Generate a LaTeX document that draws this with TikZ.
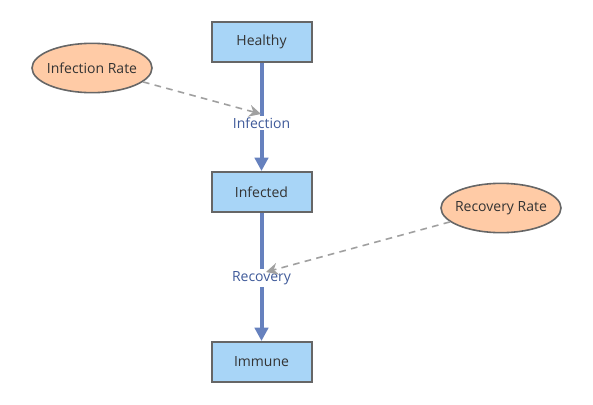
\documentclass[tikz,border=0pt]{standalone}
\usepackage{fontspec}
\setmainfont{Open Sans}
\usetikzlibrary{shapes.geometric,arrows.meta}
\definecolor{stockfill}{HTML}{A8D5F7}
\definecolor{stockline}{HTML}{666666}
\definecolor{ratefill}{HTML}{FFCBA6}
\definecolor{flowblue}{HTML}{6681BE}
\definecolor{flowtext}{HTML}{3F5A9A}
\definecolor{linkgray}{HTML}{A0A0A0}
\tikzset{
    stock/.style={draw=stockline, fill=stockfill, line width=1.5pt, minimum width=75pt, minimum height=30pt, font=\fontsize{10.5}{12}\selectfont, text=black!80},
    rate/.style={ellipse, draw=stockline, fill=ratefill, line width=1.2pt, minimum width=90pt, minimum height=37pt, inner xsep=-3pt, inner ysep=0pt, font=\fontsize{10.5}{12}\selectfont, text=black!80},
    flowlabel/.style={fill=white, inner sep=1.5pt, font=\fontsize{10.5}{12}\selectfont, text=flowtext},
    flow/.style={-{Triangle[length=10pt, width=10pt]}, line width=3pt, color=flowblue},
    link/.style={-{Stealth[length=9pt, width=9pt, inset=3pt]}, dashed, dash pattern=on 5pt off 4pt, line width=1.2pt, color=linkgray}
}
\begin{document}
\begin{tikzpicture}[x=0.75pt, y=-0.75pt]
        % page frame
        \useasboundingbox (0,0) rectangle (593,404);
        % stocks
        \node [stock] (healthy) at (261.5,42) {Healthy};
        \node [stock] (infected) at (261.5,192) {Infected};
        \node [stock] (immune) at (261.5,362) {Immune};
        % rates
        \node [rate] (infrate) at (92,68) {Infection Rate};
        \node [rate] (recrate) at (501,208) {Recovery Rate};
        % flows, label on top
        \draw [flow] (healthy.south) -- (infected.north);
        \draw [flow] (infected.south) -- (immune.north);
        \node [flowlabel] (infflow) at (261.5,123) {Infection};
        \node [flowlabel] (recflow) at (261.5,278) {Recovery};
        % dashed links
        \coordinate (infend) at (261,114);
        \coordinate (recend) at (266,272);
        \draw [link] (infrate) -- (infend);
        \draw [link] (recrate) -- (recend);
    \end{tikzpicture}
\end{document}
